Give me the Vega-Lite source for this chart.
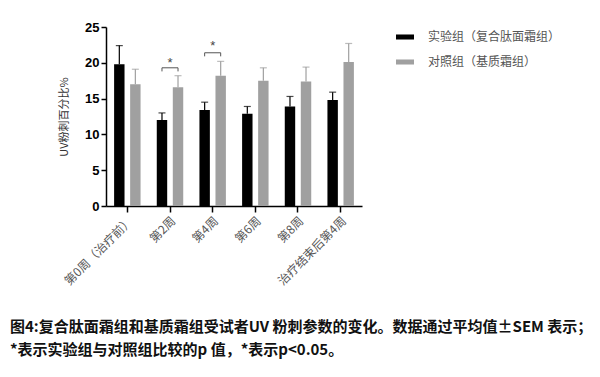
{
  "$schema": "https://vega.github.io/schema/vega-lite/v6.json",
  "width": 256,
  "height": 179,
  "autosize": {"type": "none"},
  "padding": {"left": 106, "top": 27, "right": 238, "bottom": 171},
  "background": "white",
  "config": {
    "view": {"stroke": null},
    "axisY": {
      "grid": false, "labelFont": "Liberation Sans", "labelFontWeight": "bold", "labelFontSize": 13, "labelColor": "#000",
      "domainColor": "#000", "domainWidth": 1.5, "tickColor": "#000", "tickWidth": 1.5, "tickSize": 5,
      "labelPadding": 2, "titleFont": "Noto Sans CJK SC", "titleFontSize": 11, "titleFontWeight": "normal",
      "titleColor": "#333", "titlePadding": 15
    }
  },
  "title": {
    "text": ["图4:复合肽面霜组和基质霜组受试者UV 粉刺参数的变化。数据通过平均值±SEM 表示；", "*表示实验组与对照组比较的p 值，*表示p<0.05。"],
    "orient": "bottom", "anchor": "start", "frame": "group", "dx": -96, "offset": 33,
    "font": "Noto Sans CJK SC", "fontSize": 15, "fontWeight": "bold", "lineHeight": 23, "color": "#111"
  },
  "datasets": {
    "bars": [
      {"week": "第0周（治疗前）", "group": "实验组（复合肽面霜组）", "mean": 19.8, "upper": 22.4},
      {"week": "第0周（治疗前）", "group": "对照组（基质霜组）", "mean": 17.0, "upper": 19.1},
      {"week": "第2周", "group": "实验组（复合肽面霜组）", "mean": 12.0, "upper": 13.0},
      {"week": "第2周", "group": "对照组（基质霜组）", "mean": 16.6, "upper": 18.2},
      {"week": "第4周", "group": "实验组（复合肽面霜组）", "mean": 13.4, "upper": 14.5},
      {"week": "第4周", "group": "对照组（基质霜组）", "mean": 18.2, "upper": 20.2},
      {"week": "第6周", "group": "实验组（复合肽面霜组）", "mean": 12.9, "upper": 13.9},
      {"week": "第6周", "group": "对照组（基质霜组）", "mean": 17.5, "upper": 19.3},
      {"week": "第8周", "group": "实验组（复合肽面霜组）", "mean": 13.9, "upper": 15.3},
      {"week": "第8周", "group": "对照组（基质霜组）", "mean": 17.4, "upper": 19.4},
      {"week": "治疗结束后第4周", "group": "实验组（复合肽面霜组）", "mean": 14.8, "upper": 15.9},
      {"week": "治疗结束后第4周", "group": "对照组（基质霜组）", "mean": 20.1, "upper": 22.7}
    ],
    "brackets": [
      {"week": "第2周", "group": "实验组（复合肽面霜组）", "y": 18.8, "ord": 1, "id": "a"},
      {"week": "第2周", "group": "实验组（复合肽面霜组）", "y": 19.3, "ord": 2, "id": "a"},
      {"week": "第2周", "group": "对照组（基质霜组）", "y": 19.3, "ord": 3, "id": "a"},
      {"week": "第2周", "group": "对照组（基质霜组）", "y": 18.8, "ord": 4, "id": "a"},
      {"week": "第4周", "group": "实验组（复合肽面霜组）", "y": 20.9, "ord": 1, "id": "b"},
      {"week": "第4周", "group": "实验组（复合肽面霜组）", "y": 21.4, "ord": 2, "id": "b"},
      {"week": "第4周", "group": "对照组（基质霜组）", "y": 21.4, "ord": 3, "id": "b"},
      {"week": "第4周", "group": "对照组（基质霜组）", "y": 20.9, "ord": 4, "id": "b"}
    ],
    "stars": [
      {"week": "第2周", "y": 20.0, "label": "*"},
      {"week": "第4周", "y": 22.4, "label": "*"}
    ]
  },
  "encoding": {
    "x": {
      "field": "week", "type": "nominal",
      "sort": ["第0周（治疗前）", "第2周", "第4周", "第6周", "第8周", "治疗结束后第4周"],
      "scale": {"paddingInner": 0.38, "paddingOuter": 0.19},
      "axis": {
        "title": null, "labelAngle": -45, "labelFont": "Noto Sans CJK SC", "labelFontSize": 12,
        "labelColor": "#555", "domainColor": "#000", "domainWidth": 1.5, "tickColor": "#000",
        "tickWidth": 1.5, "tickSize": 6, "labelPadding": 3
      }
    }
  },
  "layer": [
    {
      "data": {"name": "bars"},
      "mark": {"type": "bar"},
      "encoding": {
        "xOffset": {"field": "group", "type": "nominal", "sort": ["实验组（复合肽面霜组）", "对照组（基质霜组）"], "scale": {"paddingInner": 0.35, "paddingOuter": 0}},
        "y": {
          "field": "mean", "type": "quantitative",
          "scale": {"domain": [0, 25], "nice": false},
          "axis": {"title": "UV粉刺百分比%", "values": [0, 5, 10, 15, 20, 25]}
        },
        "color": {
          "field": "group", "type": "nominal",
          "scale": {"domain": ["实验组（复合肽面霜组）", "对照组（基质霜组）"], "range": ["#000000", "#a0a0a0"]},
          "legend": {
            "title": null, "orient": "none", "legendX": 290, "legendY": 1, "direction": "vertical",
            "symbolType": "M-1,-0.28H1V0.28H-1Z", "symbolSize": 324, "symbolStrokeWidth": 0,
            "labelFont": "Noto Sans CJK SC", "labelFontSize": 12, "labelColor": "#555", "labelOffset": 14,
            "rowPadding": 10
          }
        }
      }
    },
    {
      "data": {"name": "bars"},
      "mark": {"type": "rule", "strokeWidth": 1.2},
      "encoding": {
        "xOffset": {"field": "group", "type": "nominal", "sort": ["实验组（复合肽面霜组）", "对照组（基质霜组）"]},
        "y": {"field": "mean", "type": "quantitative", "axis": {"title": "UV粉刺百分比%", "values": [0, 5, 10, 15, 20, 25]}},
        "y2": {"field": "upper"},
        "color": {"field": "group", "type": "nominal", "legend": null}
      }
    },
    {
      "data": {"name": "bars"},
      "mark": {"type": "tick", "size": 7, "thickness": 1.2},
      "encoding": {
        "xOffset": {"field": "group", "type": "nominal", "sort": ["实验组（复合肽面霜组）", "对照组（基质霜组）"]},
        "y": {"field": "upper", "type": "quantitative", "axis": {"title": "UV粉刺百分比%", "values": [0, 5, 10, 15, 20, 25]}},
        "color": {"field": "group", "type": "nominal", "legend": null}
      }
    },
    {
      "data": {"name": "brackets"},
      "mark": {"type": "line", "color": "#555", "strokeWidth": 1},
      "encoding": {
        "xOffset": {"field": "group", "type": "nominal", "sort": ["实验组（复合肽面霜组）", "对照组（基质霜组）"]},
        "y": {"field": "y", "type": "quantitative", "axis": {"title": "UV粉刺百分比%", "values": [0, 5, 10, 15, 20, 25]}},
        "order": {"field": "ord"},
        "detail": {"field": "id"}
      }
    },
    {
      "data": {"name": "stars"},
      "mark": {"type": "text", "fontSize": 13, "color": "#444", "baseline": "middle"},
      "encoding": {
        "y": {"field": "y", "type": "quantitative", "axis": {"title": "UV粉刺百分比%", "values": [0, 5, 10, 15, 20, 25]}},
        "text": {"field": "label"}
      }
    }
  ]
}
